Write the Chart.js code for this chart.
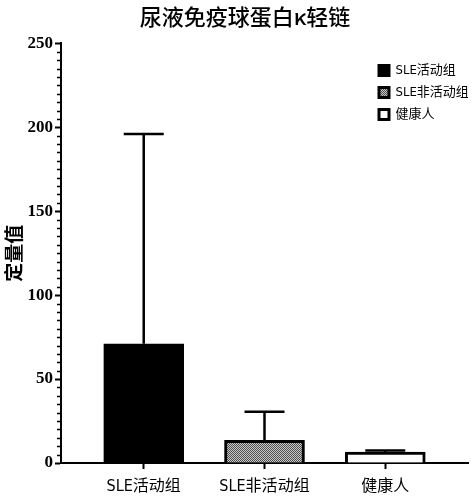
<!DOCTYPE html>
<html>
<head>
<meta charset="utf-8">
<script src="https://cdn.jsdelivr.net/npm/chart.js@4/dist/chart.umd.min.js"></script>
<style>
html,body{margin:0;padding:0;background:#fff;}
#wrap{width:474px;height:502px;}
</style>
</head>
<body>
<div id="wrap"><canvas id="c" width="474" height="502"></canvas></div>
<script>
const chartTitle = '尿液免疫球蛋白κ轻链';
const yTitle = '定量值';
const categories = ['SLE活动组', 'SLE非活动组', '健康人'];
const means = [71, 13.5, 6.5];
const sds = [125, 17, 1];
const yTicks = [0, 50, 100, 150, 200, 250];

const NARROW = '"Liberation Sans Narrow", "DejaVu Sans Condensed", "Noto Sans CJK SC", sans-serif';

function makePattern() {
  const p = document.createElement('canvas');
  p.width = 4; p.height = 4;
  const g = p.getContext('2d');
  g.fillStyle = '#c8c8c8';
  g.fillRect(0, 0, 4, 4);
  g.fillStyle = '#505050';
  for (let y = 0; y < 4; y++) for (let x = 0; x < 4; x++) {
    if ((x + y) % 2 === 0) g.fillRect(x, y, 1, 1);
  }
  return document.getElementById('c').getContext('2d').createPattern(p, 'repeat');
}
const fills = ['#000000', makePattern(), '#ffffff'];

const datasets = categories.map((c, i) => ({
  label: c,
  data: [{ x: i, y: means[i] }],
  backgroundColor: fills[i],
  borderColor: '#000',
  borderWidth: 3,
  barThickness: 80,
  grouped: false
}));

const errorBars = {
  id: 'errorBars',
  afterDatasetsDraw(chart) {
    const ctx = chart.ctx;
    const ys = chart.scales.y;
    ctx.save();
    ctx.strokeStyle = '#000';
    ctx.lineWidth = 2.5;
    chart.data.datasets.forEach((ds, i) => {
      const el = chart.getDatasetMeta(i).data[0];
      const top = ys.getPixelForValue(means[i] + sds[i]);
      ctx.beginPath();
      ctx.moveTo(el.x, el.y);
      ctx.lineTo(el.x, top);
      ctx.moveTo(el.x - 20, top);
      ctx.lineTo(el.x + 20, top);
      ctx.stroke();
    });
    ctx.restore();
  }
};

const minorTicks = {
  id: 'minorTicks',
  afterDraw(chart) {
    const ctx = chart.ctx;
    const ys = chart.scales.y;
    const x0 = chart.chartArea.left;
    ctx.save();
    ctx.strokeStyle = '#000';
    ctx.lineWidth = 1.5;
    for (let v = 5; v < 250; v += 5) {
      if (v % 50 === 0) continue;
      const y = Math.round(ys.getPixelForValue(v)) + 0.5;
      ctx.beginPath();
      ctx.moveTo(x0 - 4, y);
      ctx.lineTo(x0, y);
      ctx.stroke();
    }
    ctx.restore();
  }
};

const boxMove = {
  id: 'boxMove',
  afterLayout(chart) {
    const lg = chart.legend;
    if (lg) { lg.left = 370; lg.top = 55; }
    const tb = chart.titleBlock;
    if (tb) { tb.left += 22; }
  }
};

new Chart(document.getElementById('c'), {
  type: 'bar',
  data: { datasets },
  plugins: [errorBars, minorTicks, boxMove],
  options: {
    responsive: false,
    animation: false,
    devicePixelRatio: 1,
    layout: { padding: { left: 0, right: 6, top: 0, bottom: 0 } },
    plugins: {
      title: {
        display: true,
        text: chartTitle,
        color: '#000',
        font: { family: '"Noto Sans CJK SC", sans-serif', size: 22, weight: '500' },
        padding: { top: 3, bottom: 14 }
      },
      legend: {
        display: true,
        position: 'chartArea',
        align: 'start',
        labels: {
          color: '#000',
          boxWidth: 10,
          boxHeight: 10,
          padding: 9,
          font: { family: NARROW, size: 13 }
        }
      },
      tooltip: { enabled: false }
    },
    scales: {
      x: {
        type: 'linear',
        offset: false,
        min: -0.685,
        max: 2.685,
        afterBuildTicks: s => { s.ticks = categories.map((c, i) => ({ value: i })); },
        afterFit: s => { s.height = 39; },
        ticks: {
          color: '#000',
          autoSkip: false,
          maxRotation: 0,
          padding: 8,
          font: { family: NARROW, size: 16 },
          callback: v => categories[v]
        },
        grid: { offset: false, drawOnChartArea: false, drawTicks: true, tickLength: 6, tickColor: '#000', tickWidth: 2 },
        border: { display: true, color: '#000', width: 2 }
      },
      y: {
        min: 0,
        max: 250,
        afterBuildTicks: s => { s.ticks = yTicks.map(v => ({ value: v })); },
        afterFit: s => { s.width = 61; },
        title: {
          display: true,
          text: yTitle,
          color: '#000',
          font: { family: '"Noto Sans CJK SC", sans-serif', size: 19, weight: 'bold' },
          padding: { top: 2, bottom: 0 }
        },
        ticks: {
          color: '#000',
          padding: 2,
          font: { family: '"Liberation Serif", "DejaVu Serif", serif', size: 17, weight: 'bold' }
        },
        grid: { drawOnChartArea: false, drawTicks: true, tickLength: 6, tickColor: '#000', tickWidth: 2 },
        border: { display: true, color: '#000', width: 2 }
      }
    }
  }
});
</script>
</body>
</html>
